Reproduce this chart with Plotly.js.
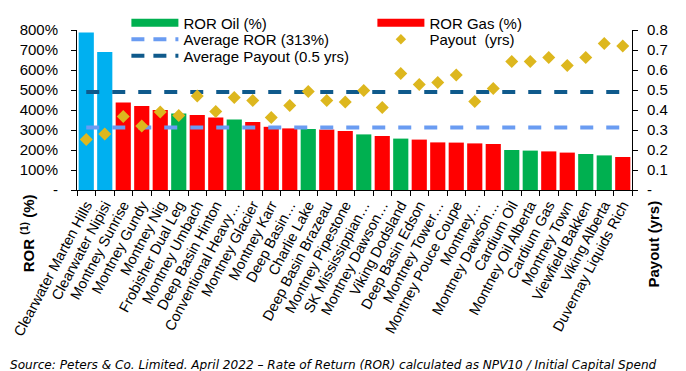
<!DOCTYPE html>
<html><head><meta charset="utf-8">
<script src="https://cdn.plot.ly/plotly-3.0.1.min.js"></script>
<style>html,body{margin:0;padding:0;background:#fff}#c{width:686px;height:371px}</style>
</head><body><div id="c"></div>
<script>
const categories = ["Clearwater Marten Hills","Clearwater Nipisi","Montney Sunrise","Montney Gundy","Montney Nig","Frobisher Dual Leg","Montney Umbach","Deep Basin Hinton","Conventional Heavy…","Montney Glacier","Montney Karr","Deep Basin…","Charlie Lake","Deep Basin Brazeau","Montney Pipestone","SK Mississippian…","Montney Dawson…","Viking Dodsland","Deep Basin Edson","Montney Tower…","Montney Pouce Coupe","Montney…","Montney Dawson…\u200b","Cardium Oil","Montney Oil Alberta","Cardium Gas","Montney Town","Viewfield Bakken","Viking Alberta","Duvernay Liquids Rich"];
const playType = ["blue","blue","gas","gas","gas","oil","gas","gas","oil","gas","gas","gas","oil","gas","gas","oil","gas","oil","gas","gas","gas","gas","gas","oil","oil","gas","gas","oil","oil","gas"];
const rorPct = [787,690,437,420,400,383,375,362,352,340,316,308,305,302,295,278,270,257,252,238,237,233,230,200,197,193,187,180,173,165];
const payoutYrs = [0.253,0.28,0.367,0.32,0.39,0.372,0.47,0.393,0.462,0.448,0.362,0.423,0.493,0.447,0.44,0.498,0.413,0.582,0.528,0.538,0.575,0.443,0.507,0.643,0.643,0.662,0.623,0.663,0.732,0.72];
const avgRor = 313;
const avgPayout = 0.49;
const leftTickVals = [0,100,200,300,400,500,600,700,800];
const leftTickText = ["-","100%","200%","300%","400%","500%","600%","700%","800%"];
const rightTickVals = [0,0.1,0.2,0.3,0.4,0.5,0.6,0.7,0.8];
const rightTickText = ["-","0.1","0.2","0.3","0.4","0.5","0.6","0.7","0.8"];

const C = {blue:"#00B0F0", oil:"#00B050", gas:"#FF0000", avgRor:"#6A9CF2", avgPay:"#0F5A8C", pay:"#DDB71E"};
function pick(t){ return rorPct.map((v,i)=> playType[i]===t ? v : null); }

const F = "Liberation Sans, Arial, sans-serif";
const traces = [
  {type:"bar", x:categories, y:pick("blue"), marker:{color:C.blue}, showlegend:false, hoverinfo:"skip"},
  {type:"bar", x:categories, y:pick("oil"), marker:{color:C.oil}, showlegend:false, hoverinfo:"skip"},
  {type:"bar", x:categories, y:pick("gas"), marker:{color:C.gas}, showlegend:false, hoverinfo:"skip"},
  {type:"scatter", mode:"lines", x:categories, y:categories.map(()=>avgRor), line:{color:C.avgRor,width:4,dash:"13px,13px"}, showlegend:false},
  {type:"scatter", mode:"lines", x:categories, y:categories.map(()=>avgPayout), yaxis:"y2", line:{color:C.avgPay,width:4,dash:"13px,13px"}, showlegend:false},
  {type:"scatter", mode:"markers", x:categories, y:payoutYrs, yaxis:"y2", marker:{symbol:"diamond",size:10,color:C.pay}, showlegend:false},
  // legend entries (three rows)
  {type:"scatter", mode:"lines", x:[null], y:[null], name:"ROR Oil (%)", legend:"legend", line:{color:C.oil,width:8}},
  {type:"scatter", mode:"lines", x:[null], y:[null], name:"ROR Gas (%)", legend:"legend", line:{color:C.gas,width:8}},
  {type:"scatter", mode:"lines", x:[null], y:[null], name:"Average ROR (313%)", legend:"legend2", line:{color:C.avgRor,width:4,dash:"13px,9px"}},
  {type:"scatter", mode:"markers", x:[null], y:[null], yaxis:"y2", name:"Payout  (yrs)", legend:"legend2", marker:{symbol:"diamond",size:8,color:C.pay}},
  {type:"scatter", mode:"lines", x:[null], y:[null], name:"Average Payout (0.5 yrs)", legend:"legend3", line:{color:C.avgPay,width:4,dash:"13px,9px"}}
];

function legendRow(yCenterPx){
  return {orientation:"h", x:0.089, xanchor:"left", y:1+(30-yCenterPx)/160, yanchor:"middle",
          entrywidth:184, entrywidthmode:"pixels", itemwidth:47,
          font:{family:F,size:15,color:"#000"}, bgcolor:"rgba(0,0,0,0)", traceorder:"normal"};
}

const layout = {
  width:686, height:371,
  margin:{l:77, r:54, t:30, b:181, pad:0, autoexpand:false},
  paper_bgcolor:"#fff", plot_bgcolor:"#fff",
  font:{family:F, size:15, color:"#000"},
  barmode:"overlay", bargap:0.18,
  showlegend:true,
  legend:legendRow(23),
  legend2:legendRow(39.5),
  legend3:legendRow(56),
  xaxis:{type:"category", range:[-0.5, categories.length-0.5], tickmode:"linear", tick0:0, dtick:1,
         tickson:"boundaries", ticks:"outside", ticklen:5, tickcolor:"#000",
         showline:true, linecolor:"#000", linewidth:1, tickangle:-62,
         tickfont:{family:F,size:14.5,color:"#000"}, showgrid:false, zeroline:false, fixedrange:true},
  yaxis:{range:[0,800], tickvals:leftTickVals, ticktext:leftTickText, ticks:"outside", ticklen:5,
         tickcolor:"#000", showline:true, linecolor:"#000", linewidth:1, showgrid:false, zeroline:false,
         ticklabelstandoff:10, tickfont:{family:F,size:15,color:"#000"}},
  yaxis2:{range:[0,0.8], overlaying:"y", side:"right", tickvals:rightTickVals, ticktext:rightTickText,
          ticks:"outside", ticklen:5, tickcolor:"#000", showline:true, linecolor:"#000", linewidth:1,
          showgrid:false, zeroline:false, ticklabelstandoff:6, tickfont:{family:F,size:15,color:"#000"}},
  annotations:[
    {xref:"paper", yref:"paper", x:-0.09, y:-0.27, xanchor:"center", yanchor:"middle", textangle:-90,
     text:"<b>ROR <sup>(1)</sup> (%)</b>", showarrow:false, font:{family:F,size:15,color:"#000"}},
    {xref:"paper", yref:"paper", x:1.038, y:-0.34, xanchor:"center", yanchor:"middle", textangle:-90,
     text:"<b>Payout (yrs)</b>", showarrow:false, font:{family:F,size:15,color:"#000"}},
    {xref:"paper", yref:"paper", x:-0.124, y:-1.095, xanchor:"left", yanchor:"middle",
     text:"<i>Source: Peters &amp; Co. Limited. April 2022 – Rate of Return (ROR) calculated as NPV10 / Initial Capital Spend</i>",
     showarrow:false, font:{family:"DejaVu Sans, Verdana, sans-serif",size:12.1,color:"#000"}}
  ]
};
Plotly.newPlot("c", traces, layout, {displayModeBar:false, staticPlot:true});
</script></body></html>
